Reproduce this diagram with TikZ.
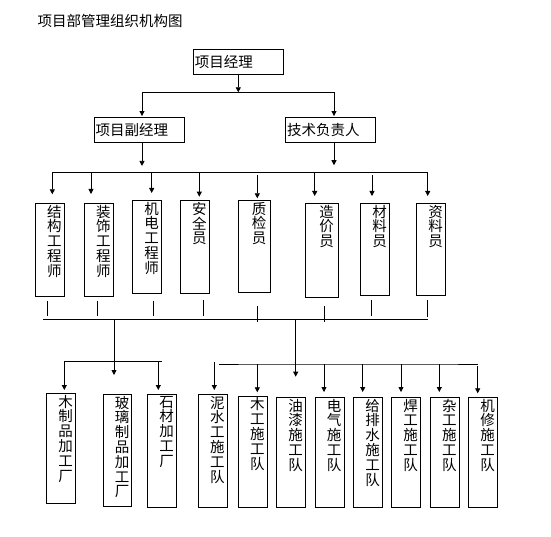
\documentclass[tikz,border=0pt]{standalone}
\usepackage{fontspec}
\newfontfamily\cjk{Noto Sans CJK SC}
\usetikzlibrary{arrows.meta}

\tikzset{
  ln/.style={line width=0.8pt},
  arr/.style={ln,-{Triangle[length=5pt,width=5pt]}},
  zh/.style={font=\cjk\fontsize{14.5}{14.8}\selectfont},
  hbox/.style={draw,ln,zh,minimum height=24.7pt,text width=87pt,inner xsep=1.5pt,inner ysep=0pt,align=left},
  vbox/.style={draw,ln,anchor=north,minimum width=29pt,inner sep=0pt},
  vtext/.style={zh,anchor=north,align=center,inner sep=0pt,xshift=4.5pt,yshift=-1.5pt},
}

\begin{document}
\begin{tikzpicture}[x=1pt,y=-1pt]
\useasboundingbox (0,0) rectangle (551,537);

% Title
\node[zh,anchor=west,inner sep=0pt] (title) at (37.5,20.7) {项目部管理组织机构图};

% Managers
\node[hbox] (pm) at (238.3,61.7) {项目经理};
\node[hbox] (dep) at (139,129.8) {项目副经理};
\node[hbox] (tech) at (330.5,129.8) {技术负责人};

\draw[ln] (142,92.3) coordinate (t1) -- (334,92.3) coordinate (t2);
\draw[arr] (pm.south) -- (pm.south |- t1);
\draw[arr,shorten >=1pt] (t1) -- (t1 |- dep.north);
\draw[arr,shorten >=1pt] (t2) -- (t2 |- tech.north);
\draw[arr] (dep.south -| t1) -- ++(0,23.4);
\draw[arr] (tech.south -| t2) -- ++(0,22.7);

% Staff row
\node[vbox,minimum width=28.3pt,minimum height=92.7pt,label={[vtext]north:{结\\构\\工\\程\\师}}] (jiegou) at (49.85,203.3) {};
\node[vbox,minimum height=92.7pt,label={[vtext]north:{装\\饰\\工\\程\\师}}] (zhuangshi) at (98.8,203.3) {};
\node[vbox,minimum height=93pt,label={[vtext]north:{机\\电\\工\\程\\师}}] (jidian) at (147.2,200.3) {};
\node[vbox,minimum height=93pt,label={[vtext]north:{安\\全\\员}}] (anquan) at (194.8,200.3) {};
\node[vbox,minimum width=32.4pt,minimum height=91.4pt,label={[vtext]north:{质\\检\\员}}] (zhijian) at (254.5,200.3) {};
\node[vbox,minimum width=33.4pt,minimum height=93.4pt,label={[vtext]north:{造\\价\\员}}] (zaojia) at (322,203.3) {};
\node[vbox,minimum width=29.4pt,minimum height=92pt,label={[vtext]north:{材\\料\\员}}] (cailiao) at (375,203.3) {};
\node[vbox,minimum width=29.4pt,minimum height=92pt,label={[vtext]north:{资\\料\\员}}] (ziliao) at (431,203.3) {};

\draw[ln] (52.3,172.3) coordinate (r1) -- (91,172.3) coordinate (r2) -- (151.7,172.3) coordinate (r3)
  -- (199.3,172.3) coordinate (r4) -- (257.3,172.3) coordinate (r5) -- (314.7,172.3) coordinate (r6)
  -- (372,172.3) coordinate (r7) -- (427.7,172.3) coordinate (r8);
\draw[arr,shorten >=9pt] (r1) -- (r1 |- jiegou.north);
\draw[arr,shorten >=9.3pt] (r2) -- (r2 |- zhuangshi.north);
\draw[arr,shorten >=7.3pt] (r3) -- (r3 |- jidian.north);
\draw[arr,shorten <=1pt,shorten >=3.6pt] (r4) -- (r4 |- anquan.north);
\draw[arr,shorten <=2.7pt,shorten >=2pt] (r5) -- (r5 |- zhijian.north);
\draw[arr,shorten >=7.3pt] (r6) -- (r6 |- zaojia.north);
\draw[arr,shorten <=2.7pt,shorten >=7.3pt] (r7) -- (r7 |- cailiao.north);
\draw[arr,shorten >=7.3pt] (r8) -- (r8 |- ziliao.north);

% ticks under the staff row
\draw[ln] ([xshift=-2.5pt,yshift=-4pt]jiegou.south) -- ++(0,15.3);
\draw[ln] ([xshift=-1.5pt,yshift=-4pt]zhuangshi.south) -- ++(0,15.3);
\draw[ln] ([xshift=6.1pt,yshift=-6.7pt]jidian.south) -- ++(0,15.3);
\draw[ln] ([xshift=8.5pt,yshift=-6pt]anquan.south) -- ++(0,16);
\draw[ln] ([xshift=2.8pt,yshift=-13.3pt]zhijian.south) -- ++(0,15.7);
\draw[ln] ([xshift=2.3pt,yshift=-8.3pt]zaojia.south) -- ++(0,15.7);
\draw[ln] ([xshift=-3.3pt,yshift=-3.7pt]cailiao.south) -- ++(0,16);
\draw[ln] ([xshift=-3.3pt,yshift=-4pt]ziliao.south) -- ++(0,16.7);

\draw[ln] (43.3,319.3) coordinate (m0) -- (114,319.3) coordinate (d1) -- (295.7,319.3) coordinate (d2) -- (427.7,319.3) coordinate (m1);
\draw[arr] (d1) -- ++(0,55.7);
\draw[arr] (d2) -- ++(0,57.4);

% Workshops
\node[vbox,minimum width=28.6pt,minimum height=109.4pt,label={[vtext]north:{木\\制\\品\\加\\工\\厂}}] (mu) at (61,393.3) {};
\node[vbox,minimum width=28.4pt,minimum height=111.7pt,label={[vtext]north:{玻\\璃\\制\\品\\加\\工\\厂}}] (boli) at (117.5,394.3) {};
\node[vbox,minimum width=29.4pt,minimum height=113pt,label={[vtext]north:{石\\材\\加\\工\\厂}}] (shicai) at (162,394.3) {};

\draw[ln] (64.3,361.7) coordinate (l1) -- (158.3,361.7) coordinate (l2) -- (161.7,361.7);
\draw[arr,shorten >=3.3pt] (l1) -- (l1 |- mu.north);
\draw[arr,shorten >=4.3pt] (l2) -- (l2 |- shicai.north);

% Work teams
\node[vbox,minimum height=113pt,label={[vtext]north:{泥\\水\\工\\施\\工\\队}}] (nishui) at (212.8,394.3) {};
\node[vbox,minimum height=111.3pt,label={[vtext]north:{木\\工\\施\\工\\队}}] (mugong) at (252.8,396) {};
\node[vbox,minimum height=110pt,label={[vtext]north:{油\\漆\\施\\工\\队}}] (youqi) at (291.2,397.3) {};
\node[vbox,minimum width=28.7pt,minimum height=110pt,label={[vtext]north:{电\\气\\施\\工\\队}}] (dianqi) at (329.7,397.3) {};
\node[vbox,minimum width=28.6pt,minimum height=110pt,label={[vtext]north:{给\\排\\水\\施\\工\\队}}] (geipai) at (368,397.3) {};
\node[vbox,minimum width=28.6pt,minimum height=110pt,label={[vtext]north:{焊\\工\\施\\工\\队}}] (hangong) at (406,397.3) {};
\node[vbox,minimum height=110pt,label={[vtext]north:{杂\\工\\施\\工\\队}}] (zagong) at (444.8,397.3) {};
\node[vbox,minimum width=29.4pt,minimum height=110pt,label={[vtext]north:{机\\修\\施\\工\\队}}] (jixiu) at (483,397.3) {};

\draw[ln] (219.3,364) coordinate (g0) -- (257.3,364) coordinate (g2) -- (324,364) coordinate (g4)
  -- (362.7,364) coordinate (g5) -- (401,364) coordinate (g6) -- (439.3,364) coordinate (g7) -- (477.7,364) coordinate (g8);
\coordinate (g1) at (214.3,362.3);
\draw[arr,shorten >=4.3pt] (g1) -- (g1 |- nishui.north);
\draw[arr,shorten >=3.7pt] (g2) -- (g2 |- mugong.north);
\draw[arr,shorten >=5.3pt] (g4) -- (g4 |- dianqi.north);
\draw[arr,shorten >=5.3pt] (g5) -- (g5 |- geipai.north);
\draw[arr,shorten >=5.3pt] (g6) -- (g6 |- hangong.north);
\draw[arr,shorten >=5.3pt] (g7) -- (g7 |- zagong.north);
\draw[arr,shorten <=2pt,shorten >=4pt] (g8) -- (g8 |- jixiu.north);
\end{tikzpicture}
\end{document}
